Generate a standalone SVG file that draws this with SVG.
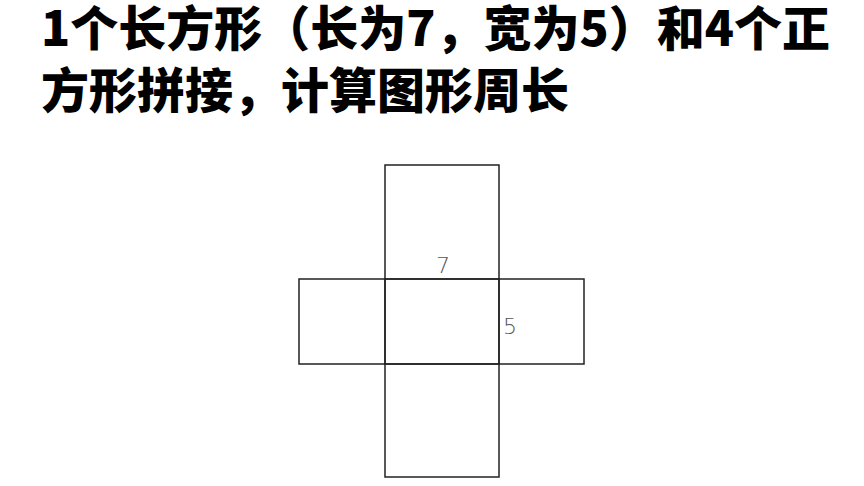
<svg xmlns="http://www.w3.org/2000/svg" width="864" height="486" viewBox="0 0 864 486">
<style>
.title{font-family:"Noto Sans CJK SC","Noto Sans",sans-serif;font-weight:900;font-size:48px;fill:#000}
.shape{fill:none;stroke:#222;stroke-width:1.5}
.lbl{font-family:"DejaVu Sans","Liberation Sans",sans-serif;font-weight:300;font-size:22px;fill:#555}
</style>
<rect width="864" height="486" fill="#fff"/>
<g id="title">
<text class="title" x="41" y="46">1个长方形（长为7，宽为5）和4个正</text>
<text class="title" x="41" y="108">方形拼接，计算图形周长</text>
</g>
<g id="top-square"><rect class="shape" x="385" y="165" width="114" height="114"/></g>
<g id="left-square"><rect class="shape" x="299" y="279" width="86" height="85"/></g>
<g id="rectangle"><rect class="shape" x="385" y="279" width="114" height="85"/></g>
<g id="right-square"><rect class="shape" x="499" y="279" width="85" height="85"/></g>
<g id="bottom-square"><rect class="shape" x="385" y="364" width="114" height="113"/></g>
<g id="labels">
<text class="lbl" x="443" y="273" text-anchor="middle">7</text>
<text class="lbl" x="510" y="334" text-anchor="middle">5</text>
</g>
</svg>
